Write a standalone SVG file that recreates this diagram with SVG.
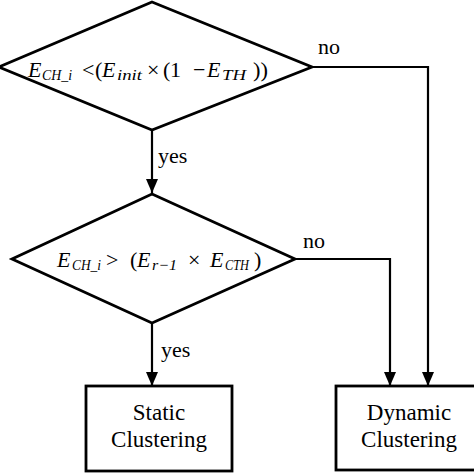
<svg xmlns="http://www.w3.org/2000/svg" width="474" height="474" viewBox="0 0 474 474">
<style>
.shape{fill:#fff;stroke:#000;stroke-width:2.8;stroke-linejoin:miter}
.conn{fill:none;stroke:#000;stroke-width:2.2}
text{font-family:"Liberation Serif","Times New Roman",serif;fill:#000}
.lbl{font-size:22px}
.box{font-size:23px;text-anchor:middle}
.m{font-size:22px}
.mi{font-style:italic}
.sub{font-size:15px;font-style:italic}
</style>
<defs>
<marker id="arr" viewBox="0 0 14 12" refX="14" refY="6" markerWidth="14" markerHeight="12" markerUnits="userSpaceOnUse" orient="auto">
<path d="M0,0 L14,6 L0,12 z" fill="#000"/>
</marker>
</defs>
<rect width="474" height="474" fill="#fff"/>
<g id="connectors">
<path class="conn" d="M152,130 V193" marker-end="url(#arr)"/>
<path class="conn" d="M152,323 V386" marker-end="url(#arr)"/>
<path class="conn" d="M312,67 H428 V386" marker-end="url(#arr)"/>
<path class="conn" d="M295,259 H390 V386" marker-end="url(#arr)"/>
<text class="lbl" x="158" y="163">yes</text>
<text class="lbl" x="161" y="357">yes</text>
<text class="lbl" x="318" y="54">no</text>
<text class="lbl" x="303" y="248">no</text>
</g>
<g id="decision1">
<polygon class="shape" points="152,2 312,67 152,130 -1,67"/>
<text class="m" y="77"><tspan class="mi" x="28">E</tspan><tspan class="sub" x="42" y="80" textLength="30" lengthAdjust="spacingAndGlyphs">CH_i</tspan><tspan x="82" y="77">&lt;</tspan><tspan x="95">(</tspan><tspan class="mi" x="102">E</tspan><tspan class="sub" x="117" y="80" textLength="25" lengthAdjust="spacingAndGlyphs">init</tspan><tspan x="147" y="77">×</tspan><tspan x="163">(</tspan><tspan x="170">1</tspan><tspan x="193">−</tspan><tspan class="mi" x="207">E</tspan><tspan class="sub" x="222" y="80" textLength="24" lengthAdjust="spacingAndGlyphs">TH</tspan><tspan x="253" y="77" textLength="15" lengthAdjust="spacingAndGlyphs">))</tspan></text>
</g>
<g id="decision2">
<polygon class="shape" points="152,194 295,259 152,323 12,259"/>
<text class="m" y="267"><tspan class="mi" x="57">E</tspan><tspan class="sub" x="72" y="270" textLength="29" lengthAdjust="spacingAndGlyphs">CH_i</tspan><tspan x="106" y="267">&gt;</tspan><tspan x="130">(</tspan><tspan class="mi" x="137">E</tspan><tspan class="sub" x="152" y="270" textLength="25" lengthAdjust="spacingAndGlyphs">r−1</tspan><tspan x="188" y="267">×</tspan><tspan class="mi" x="210">E</tspan><tspan class="sub" x="225" y="270" textLength="24" lengthAdjust="spacingAndGlyphs">CTH</tspan><tspan x="254" y="267">)</tspan></text>
</g>
<g id="static">
<rect class="shape" x="86" y="386" width="146" height="85"/>
<text class="box" x="159" y="420">Static</text>
<text class="box" x="159" y="447">Clustering</text>
</g>
<g id="dynamic">
<rect class="shape" x="336" y="386" width="146" height="84"/>
<text class="box" x="409" y="420">Dynamic</text>
<text class="box" x="409" y="447">Clustering</text>
</g>
</svg>
